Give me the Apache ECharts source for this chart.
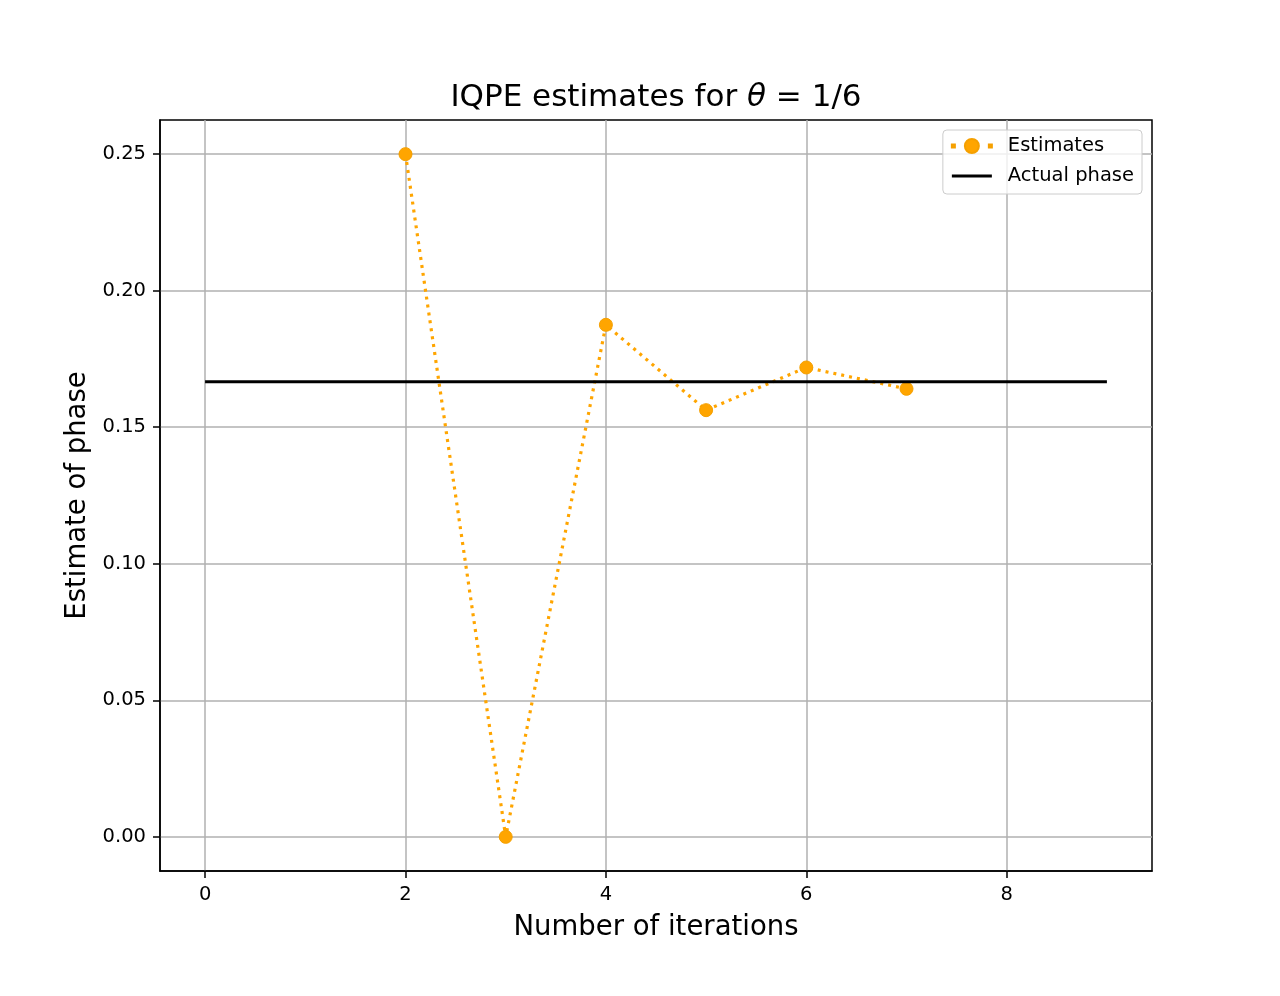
<!DOCTYPE html>
<html>
<head>
<meta charset="utf-8">
<script src="https://cdn.jsdelivr.net/npm/echarts@6/dist/echarts.min.js"></script>
<style>
html,body{margin:0;padding:0;background:#fff;}
#chart{width:1280px;height:996px;}
</style>
</head>
<body>
<div id="chart"></div>
<script>
// Data
const iterations = [2, 3, 4, 5, 6, 7];
const estimates = [0.25, 0.0, 0.1875, 0.15625, 0.171875, 0.1640625];
const actualX = [0, 9];
const actualPhase = [1/6, 1/6];
const xTicks = [0, 2, 4, 6, 8];
const yTicks = [0, 0.05, 0.10, 0.15, 0.20, 0.25];

const FONT = 'DejaVu Sans';
const chart = echarts.init(document.getElementById('chart'), null, {renderer: 'canvas'});

// legend icons (shape only; scaled by legend item box)
const ICON_EST = 'path://M0,5.5h3v3h-3z M37,5.5h3v3h-3z M13,7a7,7 0 1,0 14,0a7,7 0 1,0 -14,0z';
const ICON_ACT = 'path://M0,0h40v3h-40z';

const option = {
  backgroundColor: '#fff',
  animation: false,
  textStyle: {fontFamily: FONT},
  title: {
    text: 'IQPE estimates for {i|θ} = 1/6',
    left: 656,
    textAlign: 'center',
    top: 82,
    padding: 0,
    textStyle: {
      fontFamily: FONT, fontSize: 31, fontWeight: 'normal', color: '#000',
      rich: {i: {fontFamily: FONT, fontSize: 31, fontStyle: 'italic', color: '#000'}}
    }
  },
  legend: {
    orient: 'vertical',
    right: 138,
    top: 130,
    padding: [6, 8, 8, 8],
    itemWidth: 40,
    itemHeight: 14,
    itemGap: 10,
    backgroundColor: 'rgba(255,255,255,0.8)',
    borderColor: '#cccccc',
    borderWidth: 1,
    borderRadius: 4,
    textStyle: {fontFamily: FONT, fontSize: 19.5, color: '#000', padding: [0, 0, 0, 11]},
    data: [
      {name: 'Estimates', icon: ICON_EST},
      {name: 'Actual phase', icon: ICON_ACT}
    ]
  },
  grid: {
    left: 160, top: 120, width: 992, height: 751,
    show: true, borderColor: '#000', borderWidth: 1.5, backgroundColor: 'transparent',
    containLabel: false
  },
  xAxis: {
    type: 'value',
    min: -0.45, max: 9.45,
    name: 'Number of iterations',
    nameLocation: 'middle',
    nameGap: 43,
    nameTextStyle: {fontFamily: FONT, fontSize: 27.5, color: '#000'},
    axisLine: {show: true, onZero: false, lineStyle: {color: '#000', width: 1.5}},
    axisTick: {show: true, inside: false, length: 7, customValues: xTicks, lineStyle: {color: '#000', width: 1.5}},
    axisLabel: {show: true, customValues: xTicks, margin: 14, fontFamily: FONT, fontSize: 19.5, color: '#000',
      formatter: v => String(Math.round(v))},
    splitLine: {show: true, lineStyle: {color: '#b0b0b0', width: 1.5}}
  },
  yAxis: {
    type: 'value',
    min: -0.0125, max: 0.2625,
    name: 'Estimate of phase',
    nameLocation: 'middle',
    nameGap: 63,
    nameTextStyle: {fontFamily: FONT, fontSize: 27.5, color: '#000'},
    axisLine: {show: true, onZero: false, lineStyle: {color: '#000', width: 1.5}},
    axisTick: {show: true, inside: false, length: 7, customValues: yTicks, lineStyle: {color: '#000', width: 1.5}},
    axisLabel: {show: true, customValues: yTicks, margin: 14, fontFamily: FONT, fontSize: 19.5, color: '#000',
      formatter: v => v.toFixed(2)},
    splitLine: {show: true, lineStyle: {color: '#b0b0b0', width: 1.5}}
  },
  series: [
    {
      name: 'Estimates',
      type: 'line',
      data: iterations.map((x, i) => [x, estimates[i]]),
      symbol: 'circle',
      symbolSize: 13,
      showAllSymbol: true,
      lineStyle: {color: '#FFA500', width: 3.2, type: [3, 5], cap: 'butt'},
      itemStyle: {color: '#FFA500', borderColor: '#F5A000', borderWidth: 1},
      z: 3
    },
    {
      name: 'Actual phase',
      type: 'line',
      data: actualX.map((x, i) => [x, actualPhase[i]]),
      symbol: 'none',
      lineStyle: {color: '#000', width: 3},
      itemStyle: {color: '#000'},
      z: 4
    }
  ]
};
chart.setOption(option);
</script>
</body>
</html>
